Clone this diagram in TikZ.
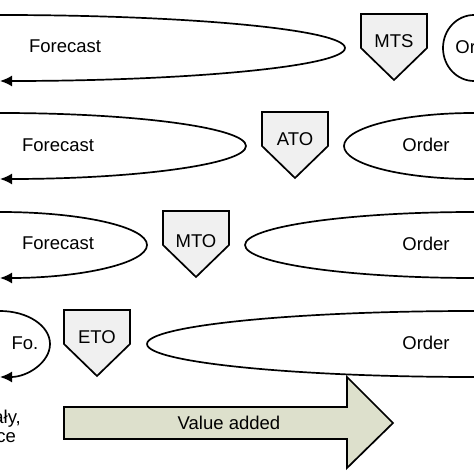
\documentclass[tikz,border=0pt]{standalone}
\usepackage{fontspec}
\setmainfont{Liberation Sans}
\usetikzlibrary{arrows.meta}
\definecolor{addedfill}{RGB}{221,224,204}
\definecolor{pointfill}{RGB}{240,240,240}

\begin{document}
\begin{tikzpicture}[x=1pt, y=1pt,
    every node/.style={font=\fontsize{18.5}{19}\selectfont, inner sep=0pt},
    forecast/.style={line width=1.7pt, -{Latex[length=12pt, width=11pt]}},
    order/.style={line width=1.7pt},
    decoupling/.style={draw, line width=1.7pt, fill=pointfill, line join=miter},
    valueadded/.style={draw, line width=1.7pt, fill=addedfill, line join=miter},
    ]
    \clip (0,0) rectangle (474,474);

    % make to stock
    \draw[forecast] (0,459) arc[start angle=90, end angle=-90, x radius=345, y radius=33];
    \draw[decoupling] (361,460) -- (427,460) -- (427,426) -- (394,394) -- (361,426) -- cycle;
    \draw[order] (474,426) ellipse[x radius=31, y radius=33];
    \node (fc1) at (65,428) {Forecast};
    \node (mts) at (394,433) {MTS};
    \node (or1) at (479,427) {Order};

    % assemble to order
    \draw[forecast] (0,361) arc[start angle=90, end angle=-90, x radius=246, y radius=33];
    \draw[decoupling] (262,362) -- (328,362) -- (328,328) -- (295,296) -- (262,328) -- cycle;
    \draw[order] (474,328) ellipse[x radius=130, y radius=33];
    \node (fc2) at (58,329) {Forecast};
    \node (ato) at (295,335) {ATO};
    \node (or2) at (426,329) {Order};

    % make to order
    \draw[forecast] (0,262) arc[start angle=90, end angle=-90, x radius=147, y radius=33];
    \draw[decoupling] (163,263) -- (229,263) -- (229,229) -- (196,197) -- (163,229) -- cycle;
    \draw[order] (474,229) ellipse[x radius=229, y radius=33];
    \node (fc3) at (58,231) {Forecast};
    \node (mto) at (196,233) {MTO};
    \node (or3) at (426,230) {Order};

    % engineer to order
    \draw[forecast] (0,163) arc[start angle=90, end angle=-90, x radius=50, y radius=33];
    \draw[decoupling] (64,164) -- (130,164) -- (130,130) -- (97,98) -- (64,130) -- cycle;
    \draw[order] (474,130) ellipse[x radius=327, y radius=33];
    \node (fc4) at (25,131) {Fo.};
    \node (eto) at (97,137) {ETO};
    \node (or4) at (426,131) {Order};

    % value added
    \draw[valueadded] (64,67) -- (347,67) -- (347,97) -- (393,51) -- (347,6) -- (347,35) -- (64,35) -- cycle;
    \node (va) at (229,51) {Value added};
    \node[anchor=base east] (mat1) at (21,50) {ały,};
    \node[anchor=base east] (mat2) at (16,31) {ce};
\end{tikzpicture}
\end{document}
